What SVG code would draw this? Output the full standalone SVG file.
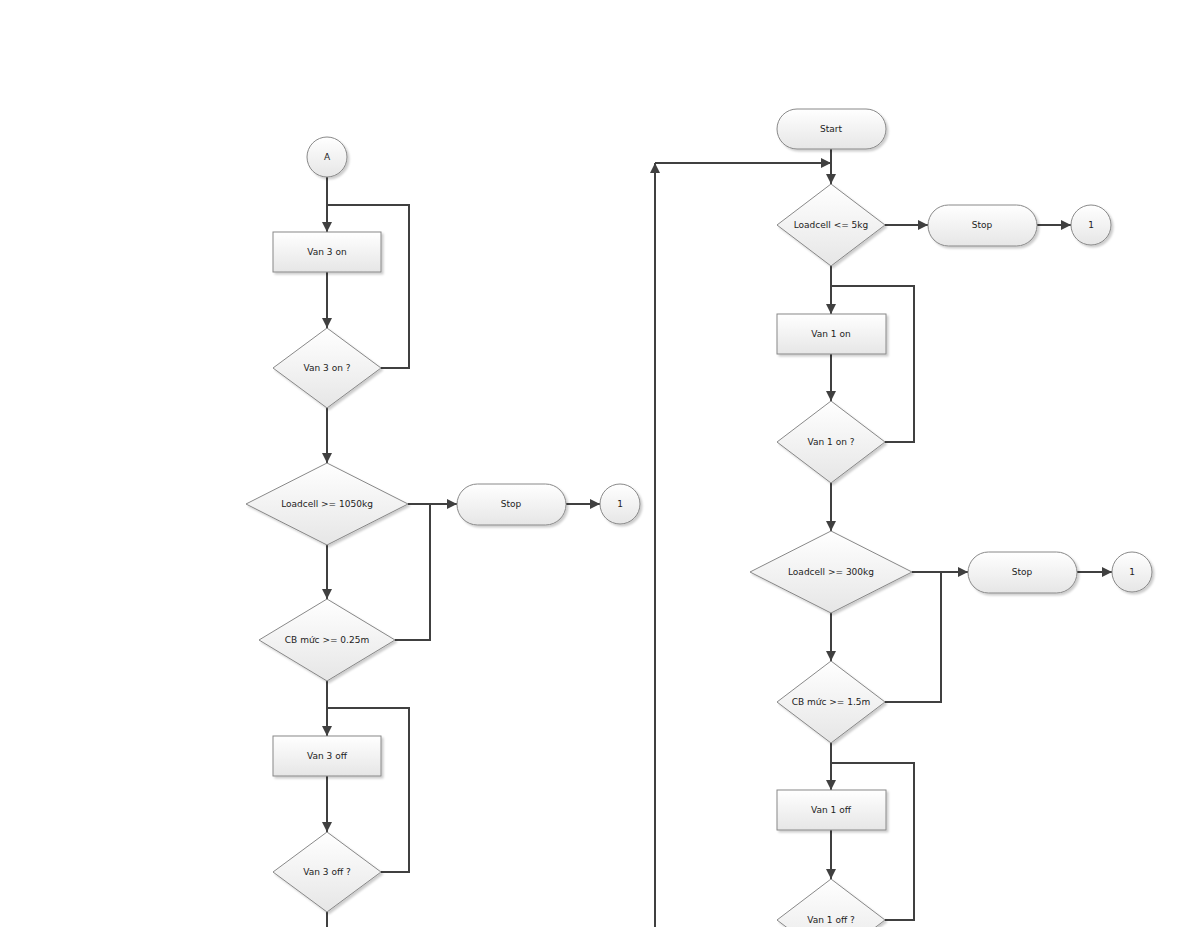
<svg xmlns="http://www.w3.org/2000/svg" width="1200" height="927" viewBox="0 0 1200 927">
<defs>
<linearGradient id="g" x1="0" y1="0" x2="0" y2="1"><stop offset="0" stop-color="#ffffff"/><stop offset="1" stop-color="#e6e6e6"/></linearGradient>
<marker id="ar" viewBox="0 0 10 10" refX="10" refY="5" markerWidth="10" markerHeight="10" markerUnits="userSpaceOnUse" orient="auto"><path d="M0,0 L10,5 L0,10 z" fill="#404040"/></marker>
<filter id="sh" x="-10%" y="-10%" width="130%" height="130%"><feDropShadow dx="2" dy="2" stdDeviation="1.2" flood-color="#000" flood-opacity="0.2"/></filter>
</defs>
<style>
.n{fill:url(#g);stroke:#888;stroke-width:1;filter:url(#sh)}
.t{font-family:"DejaVu Sans",sans-serif;font-size:9px;fill:#222;text-anchor:middle;dominant-baseline:central}
.c{fill:none;stroke:#404040;stroke-width:2}
.a{marker-end:url(#ar)}
</style>
<rect width="1200" height="927" fill="#fff"/>
<g id="connectors">
<path class="c a" d="M327,177 V232"/>
<path class="c" d="M381,368 H409 V205 H327"/>
<path class="c a" d="M327,272 V328"/>
<path class="c a" d="M327,408 V463"/>
<path class="c a" d="M408,504 H457"/>
<path class="c a" d="M566,504 H600"/>
<path class="c a" d="M327,545 V599"/>
<path class="c" d="M395,640 H430 V504"/>
<path class="c a" d="M327,681 V736"/>
<path class="c" d="M381,872 H409 V708 H327"/>
<path class="c a" d="M327,776 V832"/>
<path class="c" d="M327,912 V927"/>
<path class="c a" d="M655,927 V163"/>
<path class="c a" d="M655,163 H831"/>
<path class="c a" d="M831,149 V184"/>
<path class="c a" d="M885,225 H928"/>
<path class="c a" d="M1037,225 H1071"/>
<path class="c a" d="M831,266 V314"/>
<path class="c" d="M885,442 H914 V286 H831"/>
<path class="c a" d="M831,354 V401"/>
<path class="c a" d="M831,483 V531"/>
<path class="c a" d="M912,572 H968"/>
<path class="c a" d="M1077,572 H1112"/>
<path class="c a" d="M831,613 V661"/>
<path class="c" d="M885,702 H941 V572"/>
<path class="c a" d="M831,743 V790"/>
<path class="c" d="M885,920 H914 V763 H831"/>
<path class="c a" d="M831,830 V879"/>
</g>
<g id="A"><circle class="n" cx="327" cy="157" r="20"/><text class="t" x="327" y="157">A</text></g>
<g id="van3on"><rect class="n" x="273" y="232" width="108" height="40"/><text class="t" x="327" y="252">Van 3 on</text></g>
<g id="van3onq"><path class="n" d="M327,328 L381,368 L327,408 L273,368 Z"/><text class="t" x="327" y="368">Van 3 on ?</text></g>
<g id="lc1050"><path class="n" d="M327,463 L408,504 L327,545 L246,504 Z"/><text class="t" x="327" y="504">Loadcell &gt;= 1050kg</text></g>
<g id="stopL"><rect class="n" x="457" y="484" width="109" height="41" rx="20.5"/><text class="t" x="511" y="504">Stop</text></g>
<g id="oneL"><circle class="n" cx="620" cy="504" r="20"/><text class="t" x="620" y="504">1</text></g>
<g id="cb025"><path class="n" d="M327,599 L395,640 L327,681 L259,640 Z"/><text class="t" x="327" y="640">CB mức &gt;= 0.25m</text></g>
<g id="van3off"><rect class="n" x="273" y="736" width="108" height="40"/><text class="t" x="327" y="756">Van 3 off</text></g>
<g id="van3offq"><path class="n" d="M327,832 L381,872 L327,912 L273,872 Z"/><text class="t" x="327" y="872">Van 3 off ?</text></g>
<g id="start"><rect class="n" x="777" y="109" width="109" height="40" rx="20"/><text class="t" x="831" y="129">Start</text></g>
<g id="lc5"><path class="n" d="M831,184 L885,225 L831,266 L777,225 Z"/><text class="t" x="831" y="225">Loadcell &lt;= 5kg</text></g>
<g id="stopR1"><rect class="n" x="928" y="205" width="109" height="41" rx="20.5"/><text class="t" x="982" y="225">Stop</text></g>
<g id="oneR1"><circle class="n" cx="1091" cy="225" r="20"/><text class="t" x="1091" y="225">1</text></g>
<g id="van1on"><rect class="n" x="777" y="314" width="109" height="40"/><text class="t" x="831" y="334">Van 1 on</text></g>
<g id="van1onq"><path class="n" d="M831,401 L885,442 L831,483 L777,442 Z"/><text class="t" x="831" y="442">Van 1 on ?</text></g>
<g id="lc300"><path class="n" d="M831,531 L912,572 L831,613 L750,572 Z"/><text class="t" x="831" y="572">Loadcell &gt;= 300kg</text></g>
<g id="stopR2"><rect class="n" x="968" y="552" width="109" height="41" rx="20.5"/><text class="t" x="1022" y="572">Stop</text></g>
<g id="oneR2"><circle class="n" cx="1132" cy="572" r="20"/><text class="t" x="1132" y="572">1</text></g>
<g id="cb15"><path class="n" d="M831,661 L885,702 L831,743 L777,702 Z"/><text class="t" x="831" y="702">CB mức &gt;= 1.5m</text></g>
<g id="van1off"><rect class="n" x="777" y="790" width="109" height="40"/><text class="t" x="831" y="810">Van 1 off</text></g>
<g id="van1offq"><path class="n" d="M831,879 L885,920 L831,961 L777,920 Z"/><text class="t" x="831" y="920">Van 1 off ?</text></g>
</svg>
